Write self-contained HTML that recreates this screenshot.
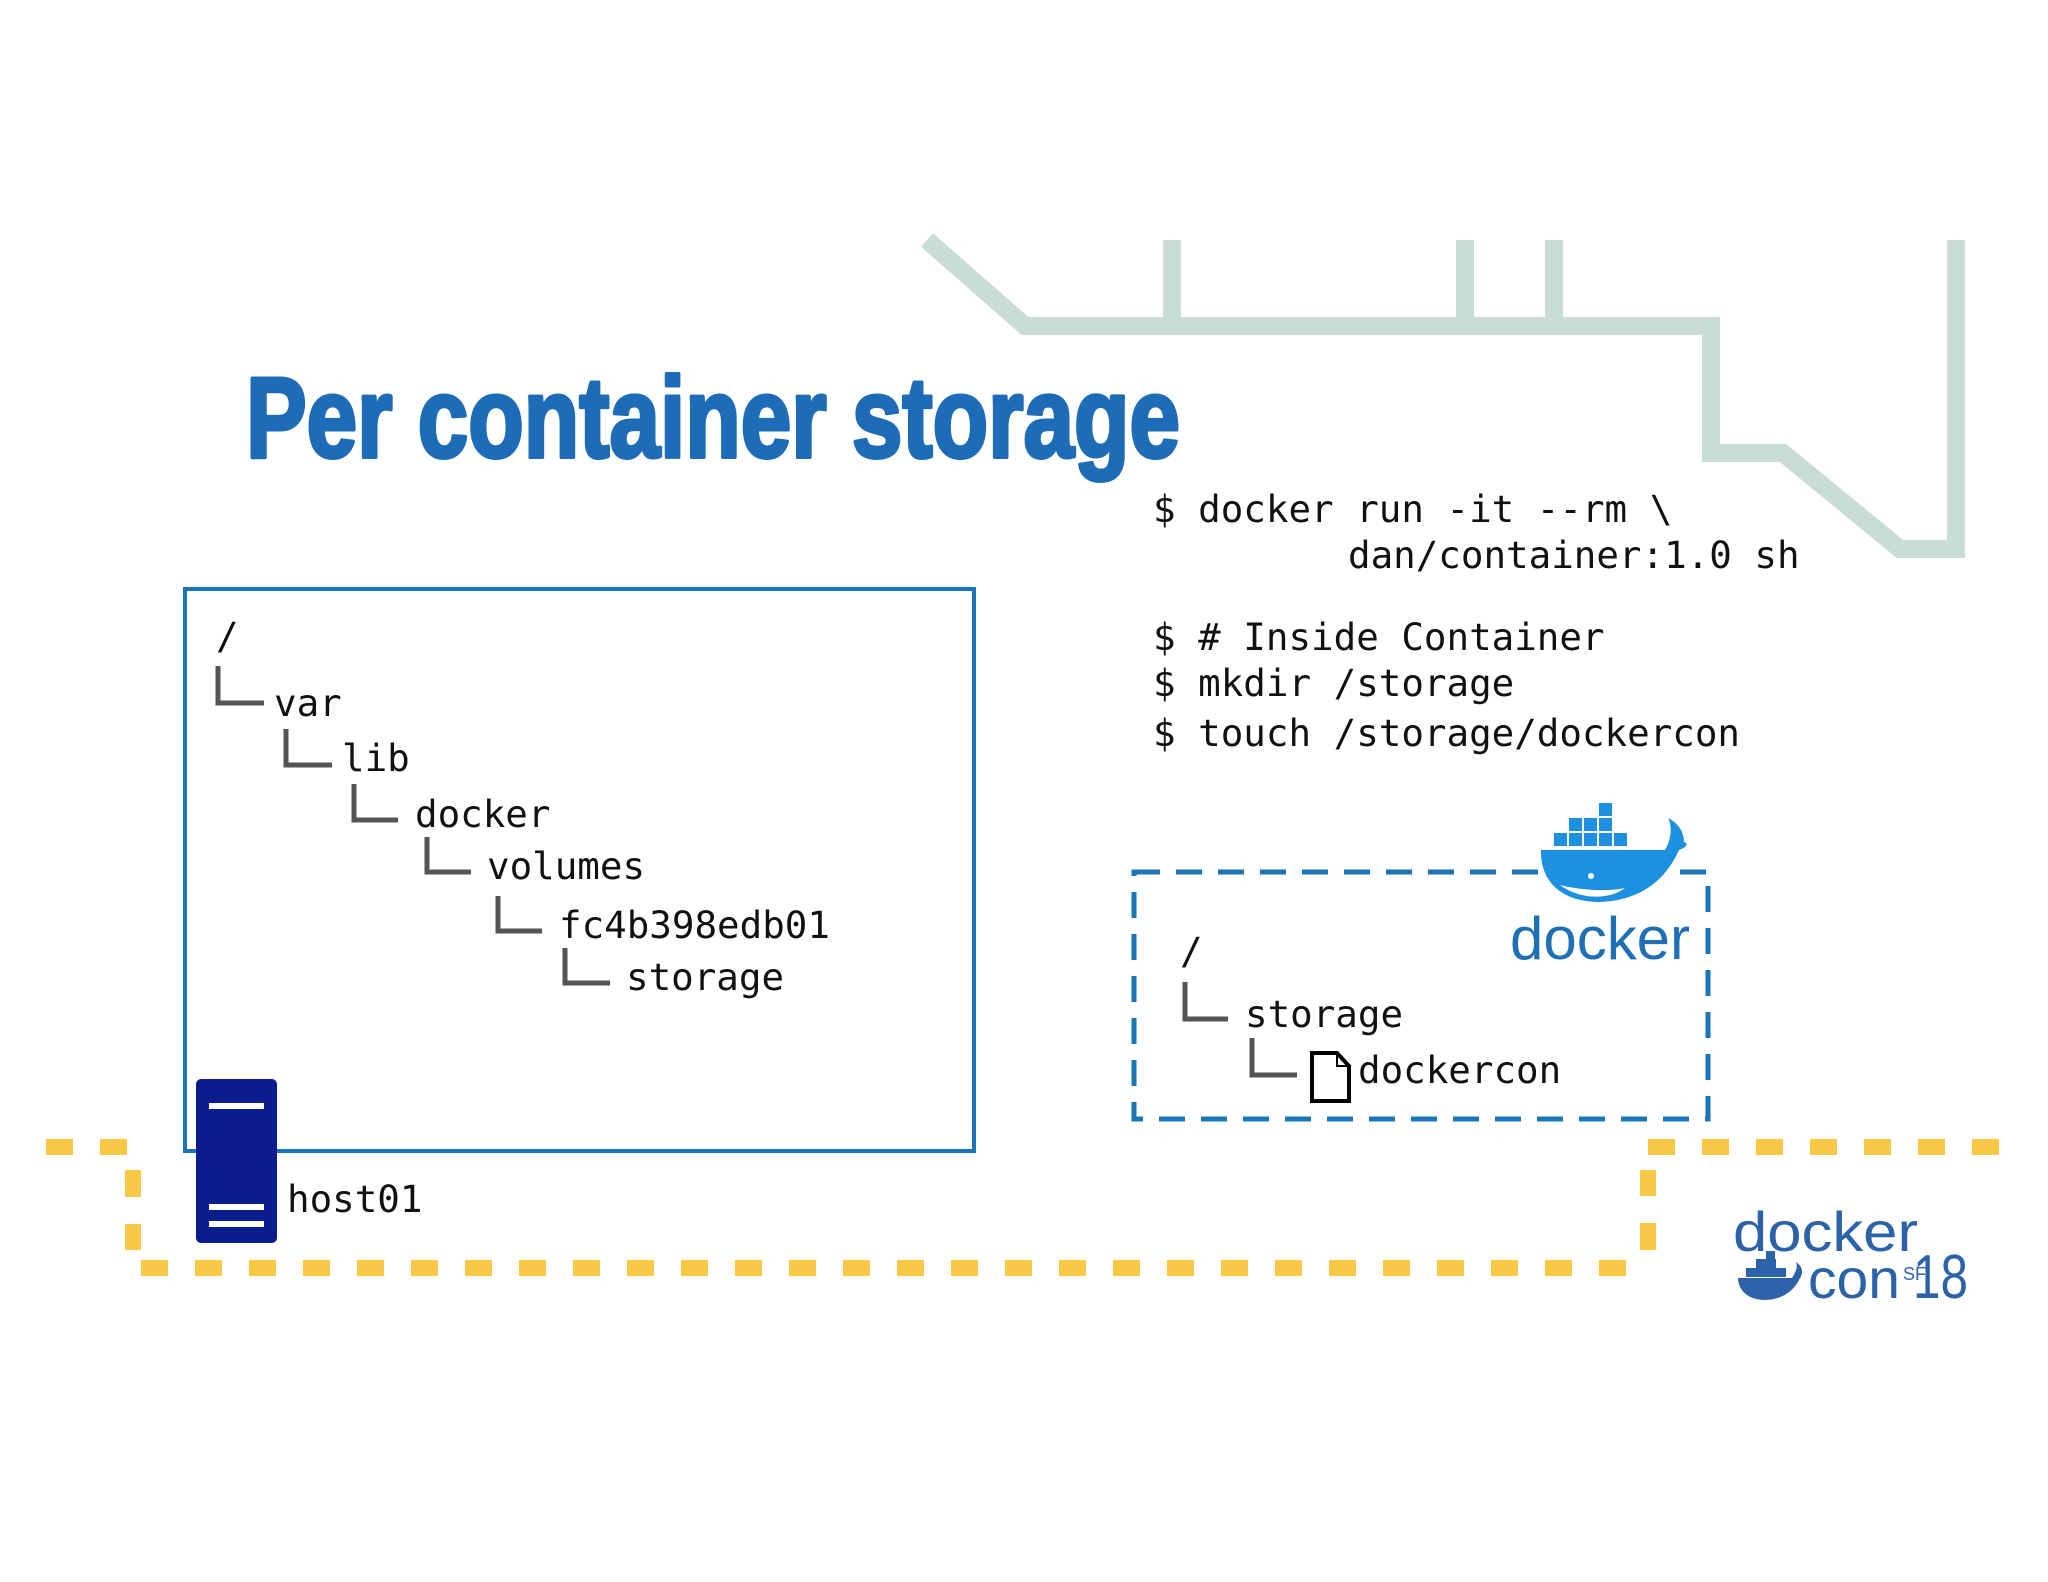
<!DOCTYPE html>
<html><head><meta charset="utf-8"><style>
html,body{margin:0;padding:0;background:#fff}
svg{display:block}
.m{font-family:"DejaVu Sans Mono","Liberation Mono",monospace;font-size:37.5px;fill:#111}
</style></head><body>
<svg width="2048" height="1582" viewBox="0 0 2048 1582" xmlns="http://www.w3.org/2000/svg">
<rect width="2048" height="1582" fill="#fff"/>
<g fill="none" stroke="#c9dcd8" stroke-width="18">
<polyline points="927,240 1025,326 1711,326 1711,453 1783,453 1900,549 1956,549 1956,240"/>
<line x1="1172" y1="240" x2="1172" y2="326"/><line x1="1465" y1="240" x2="1465" y2="326"/><line x1="1554" y1="240" x2="1554" y2="326"/>
</g>
<text x="246" y="457" font-family="Liberation Sans Narrow, Liberation Sans, sans-serif" font-weight="bold" font-size="114" fill="#1e6cb8" stroke="#1e6cb8" stroke-width="4" stroke-linejoin="round" textLength="934" lengthAdjust="spacingAndGlyphs">Per container storage</text>
<text class="m" x="1153" y="522">$ docker run -it --rm \</text>
<text class="m" x="1348" y="568">dan/container:1.0 sh</text>
<text class="m" x="1153" y="650">$ # Inside Container</text>
<text class="m" x="1153" y="696">$ mkdir /storage</text>
<text class="m" x="1153" y="746">$ touch /storage/dockercon</text>
<g fill="none" stroke="#f9c846" stroke-width="16" stroke-dasharray="27 27">
<line x1="46" y1="1147" x2="131" y2="1147"/>
<line x1="133" y1="1170" x2="133" y2="1250"/>
<polyline points="141,1268 1648,1268"/>
<line x1="1648" y1="1250" x2="1648" y2="1170"/>
<line x1="1648" y1="1147" x2="2005" y2="1147"/>
</g>
<rect x="185" y="589" width="789" height="562" fill="none" stroke="#1a75bb" stroke-width="4"/>
<g fill="none" stroke="#555" stroke-width="5">
<polyline points="218,666 218,703 264,703"/>
<polyline points="286,729 286,765 332,765"/>
<polyline points="354,784 354,820 398,820"/>
<polyline points="427,837 427,872 471,872"/>
<polyline points="498,896 498,931 542,931"/>
<polyline points="565,948 565,983 610,983"/>
<polyline points="1185,982 1185,1019 1228,1019"/>
<polyline points="1252,1038 1252,1075 1297,1075"/>
</g>
<text class="m" x="216" y="649">/</text>
<text class="m" x="274" y="716">var</text>
<text class="m" x="342" y="771">lib</text>
<text class="m" x="415" y="827">docker</text>
<text class="m" x="487" y="879">volumes</text>
<text class="m" x="559" y="938">fc4b398edb01</text>
<text class="m" x="626" y="990">storage</text>
<rect x="196" y="1079" width="81" height="164" rx="5" fill="#0b1c8c"/>
<g fill="#fff"><rect x="209" y="1103" width="55" height="6"/><rect x="209" y="1204" width="55" height="6"/><rect x="209" y="1221" width="55" height="6"/></g>
<text class="m" x="287" y="1212">host01</text>
<rect x="1134" y="872" width="574" height="247" fill="none" stroke="#1a75bb" stroke-width="5" stroke-dasharray="26 16"/>
<g fill="#1d91e0">
<path d="M1541,850 L1665,850 C1672,838 1672,825 1668,818 C1676,822 1684,830 1684,842 C1690,844 1685,848 1679,850 C1670,870 1650,900 1600,902 C1560,902 1540,880 1541,850 Z"/>
<g stroke="#fff" stroke-width="2"><rect x="1553" y="832" width="15" height="15"/><rect x="1568" y="832" width="15" height="15"/><rect x="1583" y="832" width="15" height="15"/><rect x="1598" y="832" width="15" height="15"/><rect x="1613" y="832" width="15" height="15"/><rect x="1568" y="817" width="15" height="15"/><rect x="1583" y="817" width="15" height="15"/><rect x="1598" y="817" width="15" height="15"/><rect x="1598" y="802" width="15" height="15"/></g>
</g>
<path d="M1560,885 C1580,900 1610,900 1625,888 C1605,892 1580,890 1560,885Z" fill="#fff"/>
<circle cx="1591" cy="876" r="3" fill="#fff"/>
<text x="1510" y="959" font-family="Liberation Sans, sans-serif" font-size="60" fill="#1e6fb3" textLength="180" lengthAdjust="spacingAndGlyphs">docker</text>
<text class="m" x="1180" y="964">/</text>
<text class="m" x="1245" y="1027">storage</text>
<path d="M1312,1053 L1337,1053 L1349,1066 L1349,1101 L1312,1101 Z" fill="#fff" stroke="#000" stroke-width="4"/>
<path d="M1337,1053 L1337,1066 L1349,1066" fill="none" stroke="#000" stroke-width="2"/>
<text class="m" x="1358" y="1083">dockercon</text>
<g fill="#2c63a8" font-family="Liberation Sans, sans-serif">
<text x="1733" y="1251" font-size="56" textLength="185" lengthAdjust="spacingAndGlyphs">docker</text>
<text x="1808" y="1298" font-size="56" textLength="92" lengthAdjust="spacingAndGlyphs">con</text>
<text x="1913" y="1298" font-size="62" textLength="55" lengthAdjust="spacingAndGlyphs">18</text>
<text x="1903" y="1280" font-size="18">SF</text>
<path d="M1738,1278 L1792,1278 C1796,1272 1798,1266 1796,1262 C1802,1266 1804,1272 1800,1278 C1794,1292 1780,1300 1765,1300 C1748,1300 1738,1290 1738,1278Z"/>
<rect x="1746" y="1268" width="40" height="9"/><rect x="1756" y="1259" width="20" height="9"/><rect x="1766" y="1251" width="9" height="8"/>
</g>
</svg>
</body></html>
